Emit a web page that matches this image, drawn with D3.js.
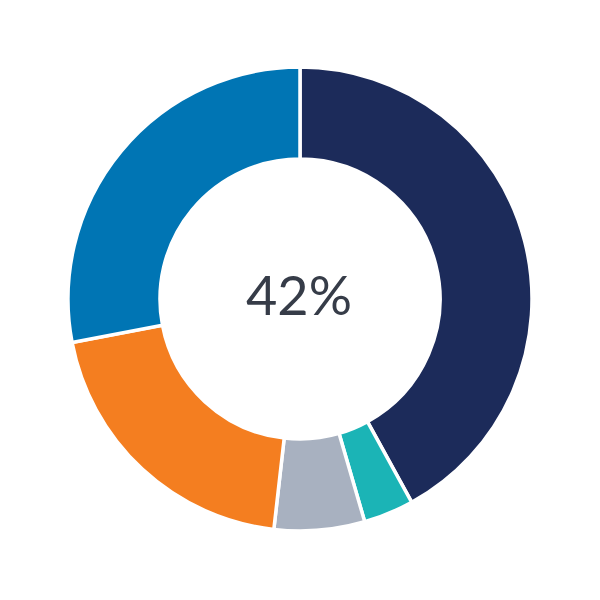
<!DOCTYPE html>
<html>
<head>
    <script src="https://d3js.org/d3.v7.min.js"></script>
    <style>
        body { margin: 0; background: #fff; }
    </style>
</head>
<body>
<div id="chart"></div>
<script>
    // slice order: clockwise from 12 o'clock
    const categories = ["Navy", "Teal", "Gray", "Orange", "Blue"];
    const values = [42, 3.5, 6.3, 20.2, 28.0];
    const colors = ["#1c2b5a", "#1bb4b6", "#a8b1c0", "#f47e20", "#0075b4"];
    const centerLabel = "42%";

    const width = 600, height = 600;
    const cx = 300, cy = 299;
    const outerR = 232, innerR = 140;

    const svg = d3.select("#chart")
        .append("svg")
        .attr("width", width)
        .attr("height", height);

    const g = svg.append("g")
        .attr("transform", `translate(${cx},${cy})`);

    const data = categories.map((c, i) => ({ name: c, value: values[i], color: colors[i] }));

    const pie = d3.pie()
        .value(d => d.value)
        .sort(null);

    const arc = d3.arc()
        .innerRadius(innerR)
        .outerRadius(outerR);

    g.selectAll("path")
        .data(pie(data))
        .enter()
        .append("path")
        .attr("d", arc)
        .style("fill", d => d.data.color)
        .style("stroke", "#fff")
        .style("stroke-width", 3.5);

    g.append("text")
        .attr("x", -1)
        .attr("y", 16)
        .attr("text-anchor", "middle")
        .style("font-family", "Lato, sans-serif")
        .style("font-weight", 400)
        .style("font-size", "54px")
        .style("fill", "#363c48")
        .text(centerLabel);
</script>
</body>
</html>
